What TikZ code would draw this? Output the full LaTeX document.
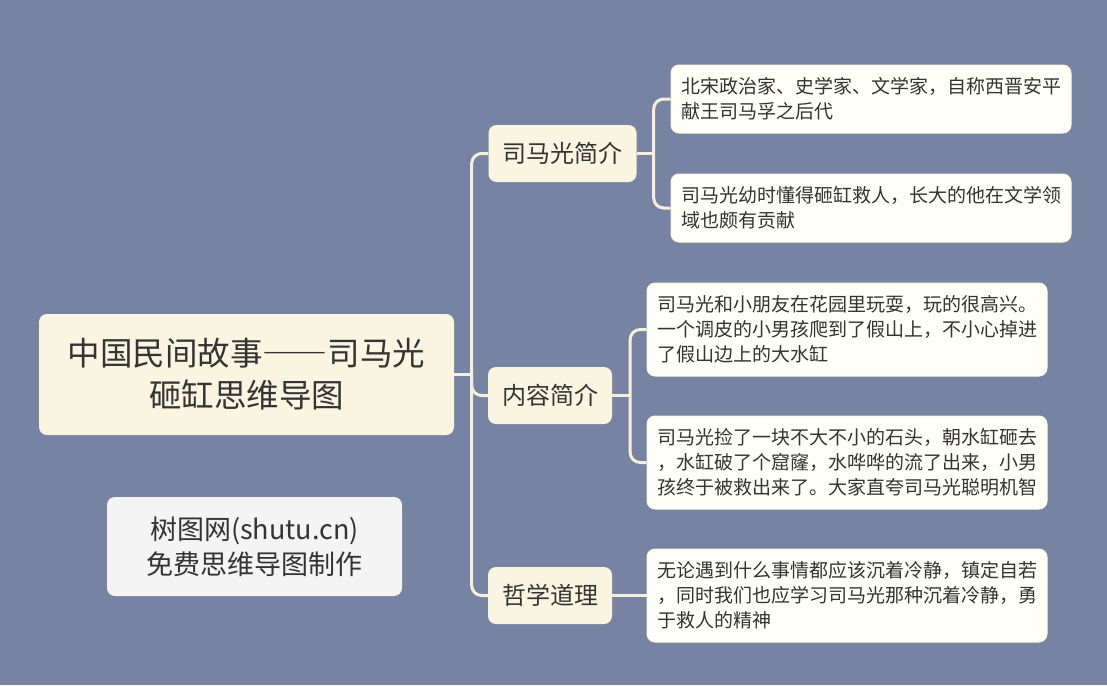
\documentclass[tikz,border=0pt]{standalone}
\usepackage{fontspec}
\setmainfont{Noto Sans CJK SC}
\newcommand{\fwdash}{{\addfontfeatures{RawFeature=+fwid}——}}
\definecolor{bgblue}{RGB}{119,131,163}
\definecolor{cream}{RGB}{250,245,225}
\definecolor{paper}{RGB}{255,254,248}
\definecolor{linkc}{RGB}{246,240,218}
\definecolor{inkc}{RGB}{51,51,51}
\definecolor{markc}{RGB}{244,244,244}

\begin{document}
\begin{tikzpicture}[x=1pt,y=-1pt,
  box/.style={rounded corners=8pt,text=inkc,inner sep=0pt},
  topic/.style={box,fill=cream,align=center,minimum width=415pt,minimum height=121pt,
    font=\fontsize{32.5}{42}\selectfont},
  branch/.style={box,fill=cream,inner xsep=14pt,minimum height=57pt,
    font=\fontsize{24}{28}\selectfont},
  leaf/.style={box,fill=paper,draw=cream,line width=1pt,inner xsep=10pt,text width=380pt,
    align=left,font=\fontsize{19}{25}\selectfont},
  markbox/.style={box,fill=markc,align=center,minimum width=295pt,minimum height=99pt,
    font=\fontsize{27}{35}\selectfont},
  link/.style={draw=linkc,line width=3pt,rounded corners=10pt}]
\fill[bgblue] (0,0) rectangle (1107,685);

\node[topic] (r0) at (246.5,374.5) {中国民间故事\fwdash 司马光\\砸缸思维导图};
\node[markbox] (w0) at (254.5,546.5) {树图网(shutu.cn)\\免费思维导图制作};

\node[branch] (b1) at (562.5,153.5) {司马光简介};
\node[branch] (b2) at (550,395.5) {内容简介};
\node[branch] (b3) at (550,595.5) {哲学道理};

\node[leaf,minimum height=68pt] (l1) at (871,99) {北宋政治家、史学家、文学家，自称西晋安平\\献王司马孚之后代};
\node[leaf,minimum height=68pt] (l2) at (871,208) {司马光幼时懂得砸缸救人，长大的他在文学领\\域也颇有贡献};
\node[leaf,minimum height=93pt] (l3) at (847,329.5) {司马光和小朋友在花园里玩耍，玩的很高兴。\\一个调皮的小男孩爬到了假山上，不小心掉进\\了假山边上的大水缸};
\node[leaf,minimum height=93pt] (l4) at (847,462.5) {司马光捡了一块不大不小的石头，朝水缸砸去\\，水缸破了个窟窿，水哗哗的流了出来，小男\\孩终于被救出来了。大家直夸司马光聪明机智};
\node[leaf,minimum height=93pt] (l5) at (847,595.5) {无论遇到什么事情都应该沉着冷静，镇定自若\\，同时我们也应学习司马光那种沉着冷静，勇\\于救人的精神};

\coordinate (j0) at ([xshift=17.5pt]r0.east);
\coordinate (j1) at ([xshift=17pt]b1.east);
\coordinate (j2) at ([xshift=18pt]b2.east);

\draw[link] (r0.east) -- (j0);
\draw[link] (b1.west) -| (j0) |- (b3.west);
\draw[link] (j0) |- (b2.west);

\draw[link] (b1.east) -- (j1);
\draw[link] (l1.west) -| (j1) |- (l2.west);
\draw[link] (b2.east) -- (j2);
\draw[link] (l3.west) -| (j2) |- (l4.west);
\draw[link] (b3.east) -- (l5.west);
\end{tikzpicture}
\end{document}
